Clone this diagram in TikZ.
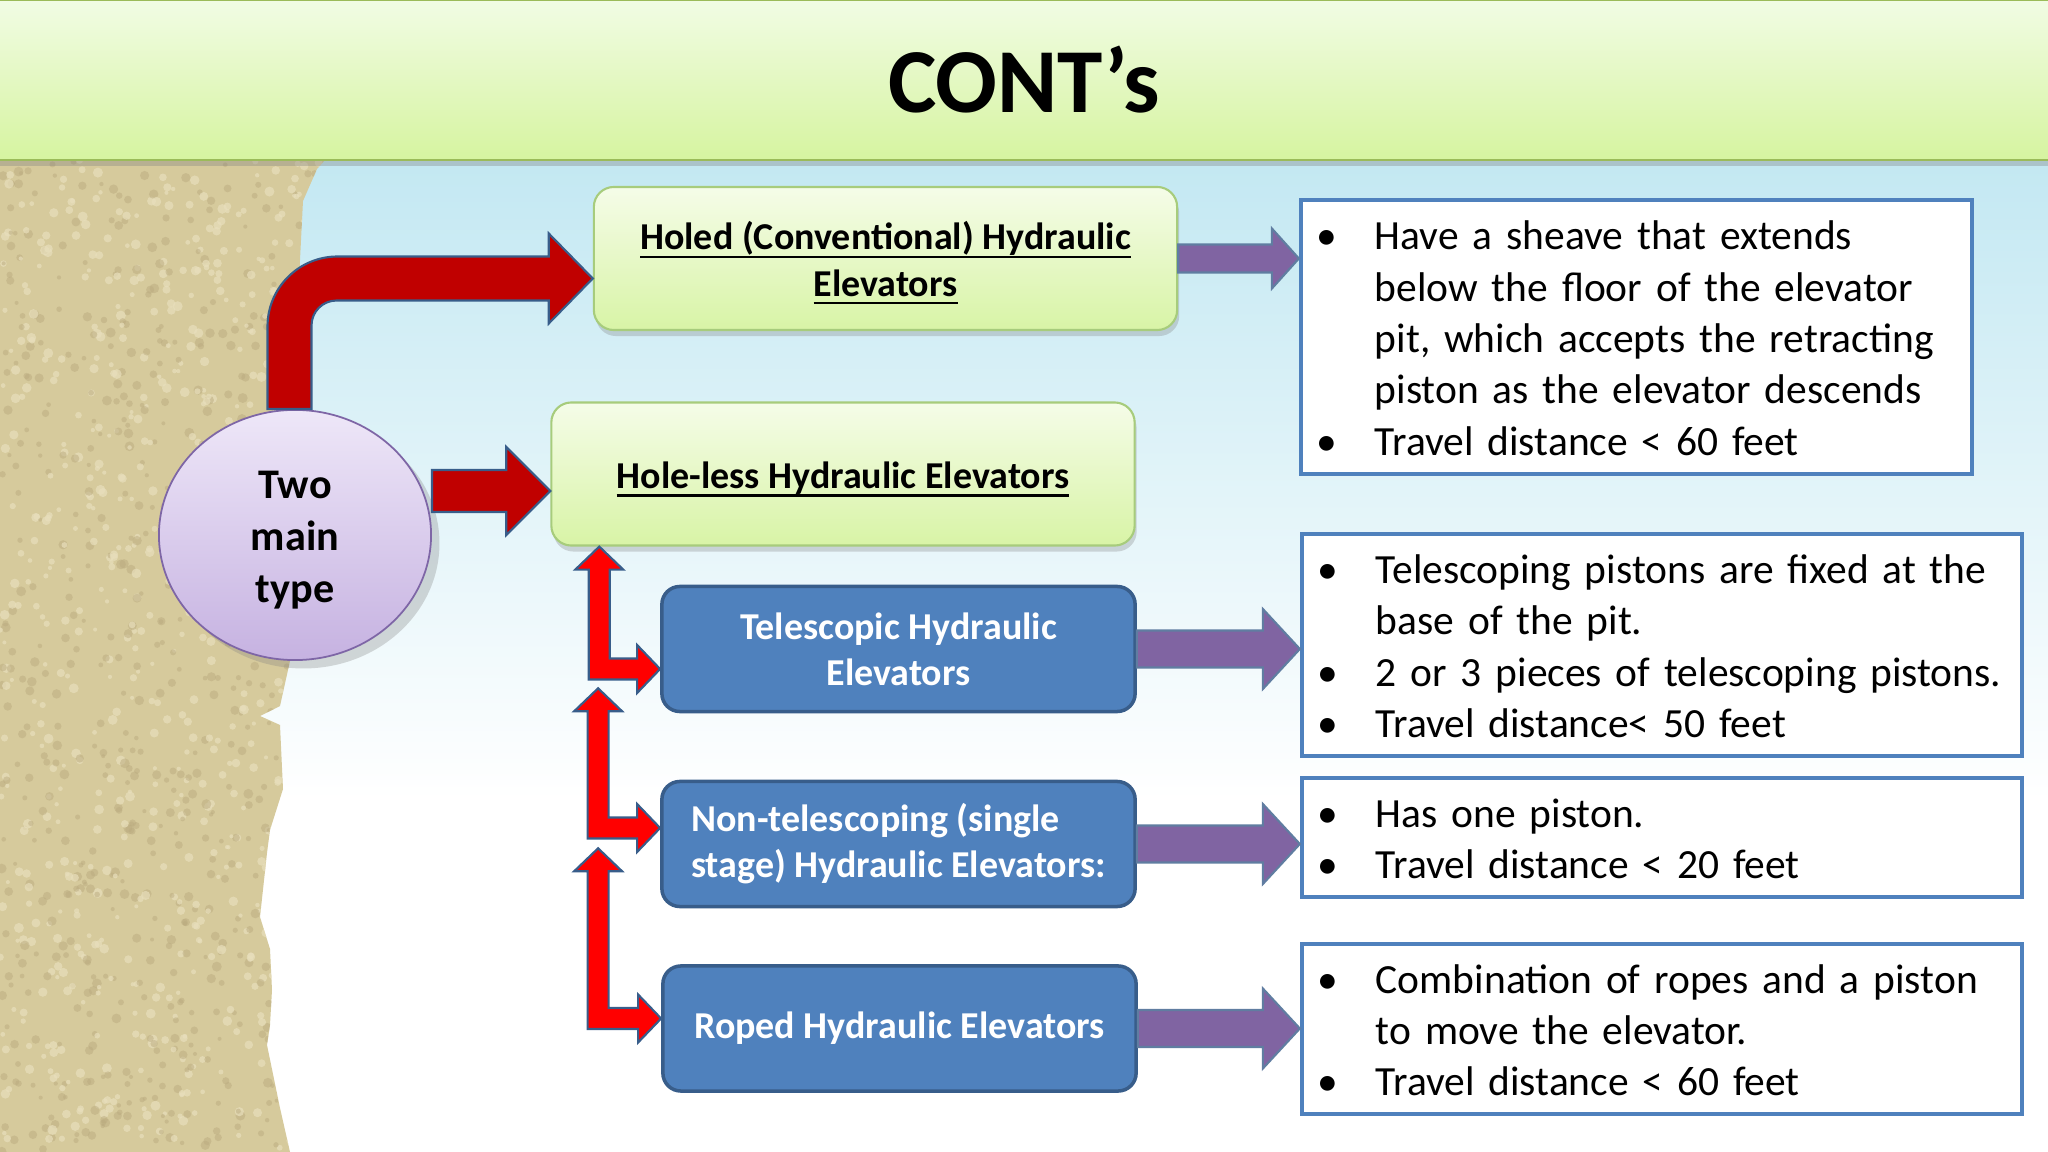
\documentclass[tikz,border=0pt]{standalone}
\usepackage{fontspec}
\setmainfont{Carlito}
\usetikzlibrary{calc,shapes.geometric,shadows}

\definecolor{titletop}{HTML}{F1FCE4}
\definecolor{titlebot}{HTML}{D6F4A0}
\definecolor{titleline}{HTML}{9BBB59}
\definecolor{skyblue}{HTML}{C3E8F2}
\definecolor{sand}{HTML}{D6CA9C}
\definecolor{sandlite}{HTML}{E8DFBC}
\definecolor{sanddark}{HTML}{BBAC80}
\definecolor{lavtop}{HTML}{EEE7F8}
\definecolor{lavbot}{HTML}{C6B2E1}
\definecolor{lavline}{HTML}{7E66A6}
\definecolor{limetop}{HTML}{F5FCE8}
\definecolor{limebot}{HTML}{D8F4A6}
\definecolor{limeline}{HTML}{A7CC7C}
\definecolor{steel}{HTML}{4F81BD}
\definecolor{steelline}{HTML}{385D8A}
\definecolor{darkred}{HTML}{C00000}
\definecolor{plum}{HTML}{8064A2}

\newlength{\pxlen}\setlength{\pxlen}{0.01cm}
\newcommand{\undl}[1]{\setbox0\hbox{#1}\leavevmode\rlap{\rule[-2.3pt]{\wd0}{0.7pt}}\box0}
\newcommand{\lowered}[1]{\raisebox{-1.5pt}[\height][\depth]{#1}}

\newcommand{\blockarrow}[6]{%
  \draw[#1] let \p1=(#2), \p2=(#3) in
    (\x1,\y1+#4*\pxlen) -- (\x2-#6*\pxlen,\y1+#4*\pxlen) -- (\x2-#6*\pxlen,\y1+#5*\pxlen) -- (\x2,\y1)
    -- (\x2-#6*\pxlen,\y1-#5*\pxlen) -- (\x2-#6*\pxlen,\y1-#4*\pxlen) -- (\x1,\y1-#4*\pxlen) -- cycle;}

\newcommand{\elbowarrow}[3]{%
  \draw[#1] let \p1=(#2), \p2=(#3) in
    (\x1,\y1) -- (\x1+24*\pxlen,\y1-23*\pxlen) -- (\x1+10.5*\pxlen,\y1-23*\pxlen)
    -- (\x1+10.5*\pxlen,\y2+10.5*\pxlen) -- (\x2-23*\pxlen,\y2+10.5*\pxlen) -- (\x2-23*\pxlen,\y2+24*\pxlen)
    -- (\x2,\y2) -- (\x2-23*\pxlen,\y2-24*\pxlen) -- (\x2-23*\pxlen,\y2-10.5*\pxlen)
    -- (\x1-10.5*\pxlen,\y2-10.5*\pxlen) -- (\x1-10.5*\pxlen,\y1-23*\pxlen) -- (\x1-24*\pxlen,\y1-23*\pxlen) -- cycle;}

\begin{document}
\begin{tikzpicture}[x=0.01cm, y=-0.01cm,
  titlebar/.style={minimum width=20.48cm, minimum height=1.6cm, inner sep=0pt, top color=titletop, bottom color=titlebot, draw=titleline, line width=0.6pt, font=\bfseries\fontsize{26}{30}\selectfont, drop shadow={shadow xshift=0pt, shadow yshift=-0.06cm, opacity=0.35}},
  lavball/.style={ellipse, minimum width=2.72cm, minimum height=2.5cm, inner sep=0pt, top color=lavtop, bottom color=lavbot, draw=lavline, line width=0.5pt, font=\bfseries\fontsize{12}{14.7}\selectfont, drop shadow={opacity=0.3}},
  limebox/.style={rounded corners=0.2cm, minimum width=5.83cm, minimum height=1.43cm, top color=limetop, bottom color=limebot, draw=limeline, line width=0.6pt, font=\bfseries\fontsize{10.8}{13.1}\selectfont, drop shadow={shadow xshift=0.02cm, shadow yshift=-0.06cm, opacity=0.3}},
  steelbox/.style={rounded corners=0.18cm, minimum width=4.73cm, minimum height=1.25cm, fill=steel, draw=steelline, line width=1pt, text=white, align=center, font=\bfseries\fontsize{10.8}{13.1}\selectfont},
  notebox/.style={draw=steel, line width=1.1pt, fill=white, inner xsep=0.16cm, inner ysep=0pt, align=left, font=\fontsize{11.8}{14.6}\selectfont},
  redblock/.style={fill=darkred, draw=steelline, line width=0.6pt},
  plumblock/.style={fill=plum, draw=steelline!80, line width=0.6pt},
  redelbow/.style={fill=red, draw=steelline, line width=0.6pt}]

  \useasboundingbox (0,0) rectangle (2048,1152);
  \fill[white] (0,0) rectangle (2048,1152);
  \fill[top color=skyblue, bottom color=white] (0,160) rectangle (2048,800);

  \begin{scope}
    \clip (0,160) -- (325,160) -- (317,169) -- (303,201) -- (300,260) -- (298,310) -- (293,425) -- (292,560) -- (290,661) -- (280,706) -- (260,716) -- (280,725) -- (283,789) -- (270,830) -- (267,853) -- (260,917) -- (270,949) -- (272,990) -- (270,1025) -- (267,1045) -- (280,1108) -- (290,1152) -- (0,1152) -- cycle;
    \fill[sand] (0,150) rectangle (340,1152);
    \pgfmathsetseed{12}
    \foreach \i in {1,...,700}{
      \fill[sanddark, opacity=0.5] ({330*rnd},{160+992*rnd}) circle[radius={2+3*rnd}];
      \fill[sandlite, opacity=0.7] ({330*rnd},{160+992*rnd}) circle[radius={2+3*rnd}];
    }
  \end{scope}

  \node[titlebar] (title) at (1024,80) {CONT’s};

  \node[lavball] (circ) at (295,535) {\lowered{\begin{tabular}{@{}c@{}}Two\\main\\type\end{tabular}}};
  \node[limebox] (holed) at (885.5,258.5) {\lowered{\begin{tabular}{@{}c@{}}\undl{Holed (Conventional) Hydraulic}\\\undl{Elevators}\end{tabular}}};
  \node[limebox] (holeless) at (843,474) {\lowered{\undl{Hole-less Hydraulic Elevators}}};

  \node[steelbox] (tele) at (898.5,649) {Telescopic Hydraulic\\Elevators};
  \node[steelbox, align=left] (nontele) at (898.5,844) {Non-telescoping (single\\stage) Hydraulic Elevators:};
  \node[steelbox] (roped) at (899.5,1028.5) {Roped Hydraulic Elevators};

  \node[notebox, text width=6.39cm, minimum height=2.74cm] (box1) at (1636.5,337) {\lowered{\begin{tabular}{@{}p{16.5pt}@{}l@{}}
    \textbullet & Have a sheave that extends\\
    & below the floor of the elevator\\
    & pit, which accepts the retracting\\
    & piston as the elevator descends\\
    \textbullet & Travel distance < 60 feet
  \end{tabular}}};
  \node[notebox, text width=6.88cm, minimum height=2.22cm] (box2) at (1662,645) {\lowered{\begin{tabular}{@{}p{16.5pt}@{}l@{}}
    \textbullet & Telescoping pistons are fixed at the\\
    & base of the pit.\\
    \textbullet & 2 or 3 pieces of telescoping pistons.\\
    \textbullet & Travel distance< 50 feet
  \end{tabular}}};
  \node[notebox, text width=6.88cm, minimum height=1.19cm] (box3) at (1662,837.5) {\lowered{\begin{tabular}{@{}p{16.5pt}@{}l@{}}
    \textbullet & Has one piston.\\
    \textbullet & Travel distance < 20 feet
  \end{tabular}}};
  \node[notebox, text width=6.88cm, minimum height=1.7cm] (box4) at (1662,1029) {\lowered{\begin{tabular}{@{}p{16.5pt}@{}l@{}}
    \textbullet & Combination of ropes and a piston\\
    & to move the elevator.\\
    \textbullet & Travel distance < 60 feet
  \end{tabular}}};

  \draw[redblock] let \p1=(circ.north), \p2=($(holed.west)+(0,20)$) in
    (\x1-27.5*\pxlen,\y1) -- (\x1-27.5*\pxlen,\y2-48*\pxlen) arc[start angle=180, end angle=90, radius=70*\pxlen]
    -- (\x2-44*\pxlen,\y2+22*\pxlen) -- (\x2-44*\pxlen,\y2+45*\pxlen) -- (\x2,\y2) -- (\x2-44*\pxlen,\y2-45*\pxlen)
    -- (\x2-44*\pxlen,\y2-22*\pxlen) -- (\x1+41.5*\pxlen,\y2-22*\pxlen) arc[start angle=90, end angle=180, radius=25*\pxlen]
    -- (\x1+16.5*\pxlen,\y1) -- cycle;
  \blockarrow{redblock}{$(circ.east)+(0,-44)$}{holeless.west}{21}{44}{44}

  \blockarrow{plumblock}{holed.east}{box1.west}{14}{30}{27}
  \blockarrow{plumblock}{tele.east}{box2.west}{18.5}{40}{37}
  \blockarrow{plumblock}{nontele.east}{box3.west}{18.5}{40}{37}
  \blockarrow{plumblock}{roped.east}{box4.west}{18.5}{40}{37}

  \coordinate (up1) at ($(holeless.south west)+(49,0)$);
  \coordinate (up2) at ($(tele.south west)+(-62,-25)$);
  \coordinate (up3) at ($(nontele.south west)+(-62,-60)$);
  \elbowarrow{redelbow}{up1}{$(tele.west)+(0,20)$}
  \elbowarrow{redelbow}{up2}{$(nontele.west)+(0,-16)$}
  \elbowarrow{redelbow}{up3}{$(roped.west)+(0,-10)$}
\end{tikzpicture}
\end{document}
